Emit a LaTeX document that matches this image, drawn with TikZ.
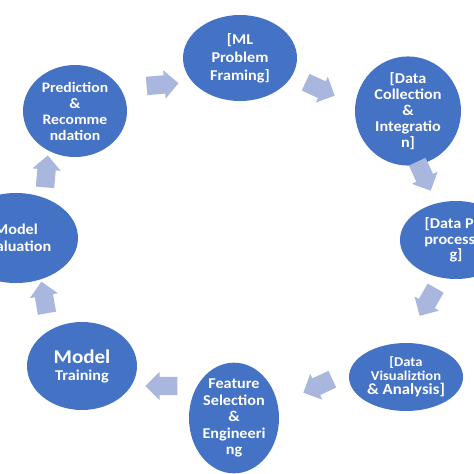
\documentclass[tikz,border=0pt]{standalone}
\usepackage{fontspec}
\setmainfont{Carlito}[FakeStretch=1.08]
\usetikzlibrary{shapes.geometric,shapes.arrows}
\definecolor{ellblue}{HTML}{4472C4}
\definecolor{arrblue}{HTML}{A9B7DF}
\begin{document}
\begin{tikzpicture}[x=1pt,y=-1pt,
  stage/.style={ellipse, fill=ellblue, draw=none, text=white, inner sep=0pt, align=center,
    font=\bfseries\fontsize{15}{17}\selectfont},
  blk/.style={single arrow, fill=arrblue, draw=none, inner xsep=0pt, inner ysep=9pt,
    minimum height=32pt, single arrow head extend=5pt, single arrow head indent=0pt}]
\useasboundingbox (0,0) rectangle (474,474);
\clip (0,0) rectangle (474,474);
\fill[white] (0,0) rectangle (474,474);
% stages
\node[stage, minimum width=114pt, minimum height=86pt, font=\bfseries\fontsize{15}{18}\selectfont] (s1) at (240,58)
  {[ML\\Problem\\Framing]};
\node[stage, minimum width=106pt, minimum height=104pt, font=\bfseries\fontsize{15}{16}\selectfont] (s2) at (408,111)
  {[Data\\Collection\\\&\\Integratio\\n]};
\node[stage, minimum width=112pt, minimum height=78pt, font=\bfseries\fontsize{15}{15.5}\selectfont] (s3) at (456,240)
  {[Data Pre\\processin\\g]};
\node[stage, minimum width=114pt, minimum height=68pt, font=\bfseries\fontsize{13.5}{14}\selectfont] (s4) at (406,377)
  {[Data\\Visualiztion\\{\fontsize{15.5}{15}\selectfont \& Analysis]}};
\node[stage, minimum width=90pt, minimum height=102pt, font=\bfseries\fontsize{15}{16.5}\selectfont] (s5) at (234,418)
  {Feature\\Selection\\\&\\Engineeri\\ng};
\node[stage, minimum width=110pt, minimum height=88pt] (s6) at (82,366)
  {{\fontsize{19.5}{20}\selectfont Model}\\Training};
\node[stage, minimum width=124pt, minimum height=90pt] (s7) at (16,238)
  {Model\\Evaluation};
\node[stage, minimum width=104pt, minimum height=92pt, font=\bfseries\fontsize{14.5}{16}\selectfont] (s8) at (75,111)
  {Prediction\\\&\\Recomme\\ndation};
% block arrows
\node[blk, rotate=5] (a81) at (158,85) {};
\node[blk, rotate=-25] (a12) at (316,87) {};
\node[blk, rotate=-65] (a23) at (422,172) {};
\node[blk, rotate=-120] (a34) at (430,298) {};
\node[blk, rotate=-155] (a45) at (322,384) {};
\node[blk, rotate=180] (a56) at (166,386) {};
\node[blk, rotate=100] (a67) at (45,302) {};
\node[blk, rotate=85] (a78) at (46,176) {};
\end{tikzpicture}
\end{document}
